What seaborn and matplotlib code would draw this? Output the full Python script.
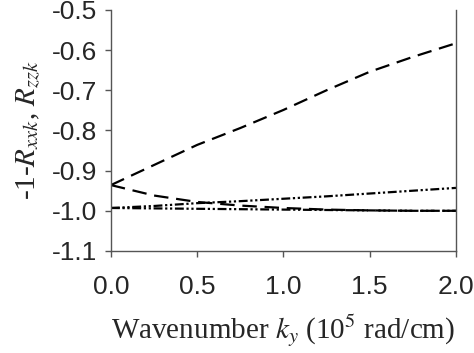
import pandas as pd
import seaborn as sns
import matplotlib.pyplot as plt

# wavenumber k_y (1e5 rad/cm)
ky = [0.0, 0.25, 0.5, 0.75, 1.0, 1.25, 1.5, 1.75, 2.0]

# curves
upper_dash = [-0.936, -0.886, -0.836, -0.794, -0.749, -0.700, -0.654, -0.617, -0.583]
lower_dash = [-0.936, -0.962, -0.978, -0.987, -0.993, -0.997, -0.999, -1.000, -1.000]
rising_dd = [-0.993, -0.988, -0.981, -0.976, -0.970, -0.964, -0.957, -0.950, -0.943]
flat_dd = [-0.993, -0.994, -0.995, -0.996, -0.997, -0.998, -0.999, -1.000, -1.000]

frames = []
for name, vals in [('a', upper_dash), ('b', lower_dash), ('c', rising_dd), ('d', flat_dd)]:
    frames.append(pd.DataFrame({'ky': ky, 'R': vals, 'curve': name}))
data = pd.concat(frames, ignore_index=True)

sns.set_style('ticks')
plt.rcParams['font.family'] = ['Liberation Sans', 'DejaVu Sans']
plt.rcParams['mathtext.fontset'] = 'stix'

fig = plt.figure(figsize=(4.74, 3.53), dpi=100)
ax = fig.add_axes([0.234, 0.289, 0.728, 0.683])

dashes = {'a': (6.5, 3.5), 'b': (6.5, 3.5),
          'c': (4, 1.2, 1, 1.2, 1, 1.2), 'd': (4, 1.2, 1, 1.2, 1, 1.2)}
sns.lineplot(data=data, x='ky', y='R', style='curve', dashes=dashes,
             color='black', linewidth=1.6, legend=False, ax=ax)

ax.set_xlim(0, 2.0)
ax.set_ylim(-1.1, -0.5)
ax.set_xticks([0.0, 0.5, 1.0, 1.5, 2.0])
ax.set_xticklabels(['0.0', '0.5', '1.0', '1.5', '2.0'])
ax.set_yticks([-1.1, -1.0, -0.9, -0.8, -0.7, -0.6, -0.5])
ax.set_yticklabels(['-1.1', '-1.0', '-0.9', '-0.8', '-0.7', '-0.6', '-0.5'])
ax.tick_params(labelsize=19, length=4, width=1, color='#555555', pad=6)
ax.tick_params(axis='x', pad=13)
for s in ['left', 'right', 'bottom']:
    ax.spines[s].set_color('#555555')
    ax.spines[s].set_linewidth(1)
ax.spines['top'].set_visible(False)

ax.set_xlabel(r'Wavenumber $k_y$ (10$^5$ rad/cm)', family='Liberation Serif',
              fontsize=21, labelpad=10)
ax.set_ylabel(r'-1-$R_{xxk}$, $R_{zzk}$', family='Liberation Serif',
              fontsize=21, labelpad=6)

fig.savefig('out.png', dpi=100)
